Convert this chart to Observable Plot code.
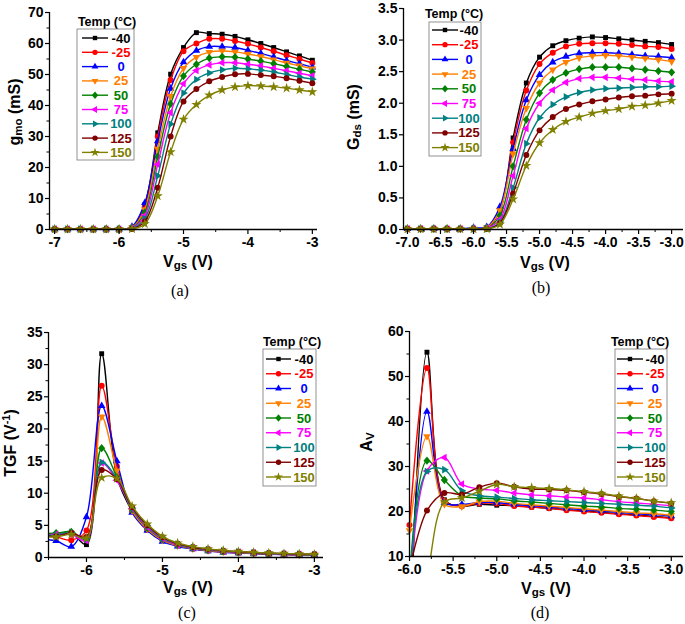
<!DOCTYPE html>
<html>
<head>
<meta charset="utf-8">
<script src="https://cdn.jsdelivr.net/npm/d3@7"></script>
<script src="https://cdn.jsdelivr.net/npm/@observablehq/plot@0.6"></script>
<style>
  body { margin: 0; background: #fff; }
  #root { position: relative; width: 685px; height: 624px; font-family: "Liberation Sans", Arial, sans-serif; overflow: hidden; }
  .pane { position: absolute; }
  .atitle { position: absolute; font-weight: bold; font-size: 16px; white-space: nowrap; transform: translate(-50%, -50%); }
  .atitle.rot { transform: translate(-50%, -50%) rotate(-90deg); }
  .atitle sub { font-size: 0.72em; vertical-align: -0.25em; }
  .atitle sup { font-size: 0.68em; vertical-align: 0.55em; }
  .cap { position: absolute; font-family: "Liberation Serif", serif; font-size: 16px; transform: translate(-50%, -50%); }
  #legends { position: absolute; left: 0; top: 0; pointer-events: none; }
</style>
</head>
<body>
<div id="root"></div>
<script>
// ----------------- data -----------------
const temps  = ["-40", "-25", "0", "25", "50", "75", "100", "125", "150"];
const colors = ["#000000", "#ff0000", "#0000ff", "#ff8000", "#008000", "#ff00ff", "#008080", "#800000", "#808000"];

// Vgs grid (V)
const vgsAB = [-7, -6.8, -6.6, -6.4, -6.2, -6, -5.8, -5.6, -5.4, -5.2, -5, -4.8, -4.6, -4.4, -4.2, -4, -3.8, -3.6, -3.4, -3.2, -3];
const vgsC  = [-6.6, -6.4, -6.2, -6, -5.8, -5.6, -5.4, -5.2, -5, -4.8, -4.6, -4.4, -4.2, -4, -3.8, -3.6, -3.4, -3.2, -3];
const vgsD  = [-6, -5.8, -5.6, -5.4, -5.2, -5, -4.8, -4.6, -4.4, -4.2, -4, -3.8, -3.6, -3.4, -3.2, -3];

// (a) gmo (mS), one row per temperature
const gmo = [
  [0.1, 0.1, 0.1, 0.1, 0.1, 0.1, 0.6, 8.0, 31.2, 50.1, 58.7, 63.5, 63.2, 63.0, 62.3, 61.2, 60.0, 58.7, 57.3, 56.0, 54.6],
  [0.1, 0.1, 0.1, 0.1, 0.1, 0.1, 0.5, 7.5, 30.0, 48.2, 57.5, 60.0, 61.5, 61.5, 60.8, 59.9, 58.7, 57.5, 56.2, 55.0, 53.7],
  [0.1, 0.1, 0.1, 0.1, 0.1, 0.1, 0.9, 8.6, 28.5, 45.5, 54.0, 57.7, 59.0, 59.0, 58.7, 57.8, 56.8, 55.7, 54.5, 53.5, 52.3],
  [0.1, 0.1, 0.1, 0.1, 0.1, 0.1, 0.6, 6.5, 26.0, 43.0, 52.0, 55.6, 57.2, 57.6, 57.3, 56.6, 55.8, 54.8, 53.7, 52.8, 51.9],
  [0.1, 0.1, 0.1, 0.1, 0.1, 0.1, 0.5, 5.5, 23.5, 40.5, 49.5, 53.3, 55.3, 55.7, 55.6, 55.0, 54.3, 53.5, 52.6, 51.7, 50.8],
  [0.1, 0.1, 0.1, 0.1, 0.1, 0.1, 0.4, 4.5, 21.0, 37.7, 47.0, 51.3, 53.1, 53.8, 53.8, 53.3, 52.8, 52.0, 51.2, 50.4, 49.6],
  [0.1, 0.1, 0.1, 0.1, 0.1, 0.1, 0.3, 3.5, 17.3, 34.0, 44.0, 48.4, 50.5, 51.5, 52.0, 51.8, 51.4, 50.8, 50.0, 49.2, 48.5],
  [0.1, 0.1, 0.1, 0.1, 0.1, 0.1, 0.2, 2.6, 13.5, 30.0, 41.3, 45.3, 47.8, 49.2, 50.1, 50.2, 49.8, 49.4, 48.8, 48.0, 47.2],
  [0.1, 0.1, 0.1, 0.1, 0.1, 0.1, 0.2, 1.8, 10.8, 25.0, 35.5, 40.3, 43.3, 45.0, 46.0, 46.4, 46.3, 46.0, 45.6, 45.0, 44.4]
];

// (b) Gds (mS)
const gds = [
  [0.01, 0.01, 0.01, 0.01, 0.01, 0.01, 0.03, 0.30, 1.45, 2.32, 2.73, 2.91, 2.99, 3.03, 3.05, 3.04, 3.02, 3.00, 2.98, 2.96, 2.93],
  [0.01, 0.01, 0.01, 0.01, 0.01, 0.01, 0.02, 0.30, 1.38, 2.20, 2.62, 2.80, 2.90, 2.94, 2.95, 2.95, 2.94, 2.92, 2.90, 2.89, 2.86],
  [0.01, 0.01, 0.01, 0.01, 0.01, 0.03, 0.04, 0.36, 1.28, 2.05, 2.45, 2.65, 2.74, 2.79, 2.80, 2.80, 2.79, 2.77, 2.75, 2.74, 2.72],
  [0.01, 0.01, 0.01, 0.01, 0.01, 0.01, 0.03, 0.30, 1.20, 1.92, 2.32, 2.53, 2.65, 2.72, 2.75, 2.76, 2.75, 2.73, 2.71, 2.69, 2.66],
  [0.01, 0.01, 0.01, 0.01, 0.01, 0.01, 0.02, 0.22, 1.00, 1.74, 2.16, 2.37, 2.48, 2.54, 2.57, 2.57, 2.57, 2.55, 2.53, 2.51, 2.49],
  [0.01, 0.01, 0.01, 0.01, 0.01, 0.01, 0.02, 0.16, 0.85, 1.60, 2.00, 2.21, 2.33, 2.39, 2.41, 2.41, 2.40, 2.38, 2.37, 2.35, 2.34],
  [0.01, 0.01, 0.01, 0.01, 0.01, 0.01, 0.01, 0.12, 0.66, 1.36, 1.77, 1.98, 2.10, 2.17, 2.21, 2.23, 2.24, 2.25, 2.26, 2.26, 2.27],
  [0.01, 0.01, 0.01, 0.01, 0.01, 0.01, 0.01, 0.10, 0.57, 1.18, 1.57, 1.78, 1.91, 1.98, 2.03, 2.06, 2.09, 2.11, 2.12, 2.14, 2.15],
  [0.01, 0.01, 0.01, 0.01, 0.01, 0.01, 0.01, 0.08, 0.48, 1.01, 1.37, 1.58, 1.71, 1.78, 1.84, 1.88, 1.91, 1.95, 1.97, 2.00, 2.04]
];

// (c) TGF (1/V)
const tgf = [
  [3.5, 3.6, 3.8, 2.0, 31.7, 12.6, 7.3, 4.4, 2.8, 1.90, 1.40, 1.10, 0.90, 0.75, 0.65, 0.55, 0.50, 0.45, 0.40],
  [3.4, 3.2, 2.7, 4.2, 26.7, 14.2, 7.3, 4.3, 2.7, 1.85, 1.35, 1.05, 0.85, 0.72, 0.62, 0.53, 0.47, 0.42, 0.38],
  [2.8, 2.6, 1.7, 6.3, 23.6, 15.0, 7.0, 4.2, 2.5, 1.75, 1.30, 1.00, 0.82, 0.70, 0.60, 0.52, 0.46, 0.41, 0.37],
  [3.5, 3.5, 3.8, 3.2, 21.9, 13.5, 7.3, 4.4, 2.7, 1.85, 1.40, 1.10, 0.90, 0.76, 0.65, 0.56, 0.50, 0.45, 0.41],
  [3.7, 3.8, 4.0, 2.8, 17.0, 12.5, 7.5, 4.6, 2.85, 1.95, 1.45, 1.15, 0.95, 0.80, 0.69, 0.60, 0.53, 0.48, 0.43],
  [3.5, 3.6, 3.6, 2.6, 14.7, 12.0, 7.6, 4.7, 2.95, 2.00, 1.50, 1.20, 0.98, 0.83, 0.72, 0.63, 0.56, 0.50, 0.45],
  [3.5, 3.5, 3.9, 2.9, 14.8, 12.3, 7.7, 4.9, 3.05, 2.10, 1.55, 1.25, 1.02, 0.87, 0.75, 0.66, 0.58, 0.52, 0.47],
  [3.4, 3.3, 3.8, 3.2, 13.6, 12.2, 7.8, 5.0, 3.15, 2.15, 1.60, 1.30, 1.06, 0.90, 0.78, 0.68, 0.60, 0.54, 0.49],
  [3.3, 3.2, 3.6, 3.0, 12.4, 12.3, 8.0, 5.2, 3.30, 2.25, 1.70, 1.35, 1.10, 0.93, 0.80, 0.70, 0.62, 0.56, 0.50]
];

// (d) Av
const av = [
  [-12, 55.4, 22.6, 21.2, 21.6, 21.4, 21.3, 21.0, 20.7, 20.4, 20.1, 19.8, 19.5, 19.2, 18.9, 18.6],
  [17, 51.9, 22.4, 21.3, 21.8, 21.8, 21.2, 21.0, 20.7, 20.3, 20.0, 19.7, 19.4, 19.1, 18.8, 18.5],
  [1, 42.2, 22.0, 21.6, 22.0, 22.0, 21.6, 21.3, 21.0, 20.7, 20.4, 20.1, 19.8, 19.5, 19.3, 19.0],
  [15.8, 36.7, 21.6, 21.1, 22.2, 22.3, 21.8, 21.5, 21.2, 20.9, 20.6, 20.3, 20.0, 19.7, 19.5, 19.2],
  [5, 31.3, 27.0, 23.5, 23.0, 22.8, 22.4, 22.1, 21.8, 21.5, 21.2, 21.0, 20.7, 20.5, 20.3, 20.0],
  [2, 29.0, 32.0, 26.1, 25.0, 24.7, 24.1, 23.7, 23.5, 23.2, 23.0, 22.6, 22.2, 21.9, 21.6, 21.3],
  [2, 28.9, 29.3, 24.6, 23.5, 23.2, 22.9, 22.6, 22.4, 22.2, 22.0, 21.8, 21.6, 21.4, 21.2, 20.8],
  [7, 20.2, 24.1, 23.8, 25.4, 26.3, 25.5, 25.0, 24.9, 24.7, 24.3, 23.9, 23.3, 22.9, 22.3, 21.8],
  [-15, 5, 22.1, 23.0, 24.5, 26.0, 25.5, 25.3, 25.1, 24.8, 24.4, 24.0, 23.4, 22.9, 22.3, 21.9]
];

// tick values
const ticksXa = [-7, -6, -5, -4, -3];
const ticksXb = [-7, -6.5, -6, -5.5, -5, -4.5, -4, -3.5, -3];
const ticksXc = [-6, -5, -4, -3];
const ticksXd = [-6, -5.5, -5, -4.5, -4, -3.5, -3];
const ticksYa = [0, 10, 20, 30, 40, 50, 60, 70];
const ticksYb = [0, 0.5, 1, 1.5, 2, 2.5, 3, 3.5];
const ticksYc = [0, 5, 10, 15, 20, 25, 30, 35];
const ticksYd = [10, 20, 30, 40, 50, 60];

// --------------- symbols -----------------
function tri(angle){
  return { draw(ctx, size){
    const R = Math.sqrt(size / 1.3) * 0.95;
    for (let k = 0; k < 3; k++){
      const a = angle + k * 2 * Math.PI / 3;
      const x = R * Math.cos(a), y = R * Math.sin(a);
      k ? ctx.lineTo(x, y) : ctx.moveTo(x, y);
    }
    ctx.closePath();
  }};
}
const diamond = { draw(ctx, size){
  const h = Math.sqrt(size) * 0.78;
  ctx.moveTo(0, -h); ctx.lineTo(h * 0.85, 0); ctx.lineTo(0, h); ctx.lineTo(-h * 0.85, 0); ctx.closePath();
}};
const symbols = [d3.symbolSquare, d3.symbolCircle, tri(-Math.PI/2), tri(Math.PI/2), diamond,
                 tri(Math.PI), tri(0), d3.symbolCircle, d3.symbolStar];
const symSize = [24, 28, 28, 28, 28, 28, 28, 28, 32];

// --------------- helpers -----------------
const root = document.getElementById("root");
const fmtInt = d => String(d);
const fmt1 = d => d.toFixed(1);

function minors(ticks){
  const out = [];
  for (let i = 0; i < ticks.length - 1; i++) out.push((ticks[i] + ticks[i+1]) / 2);
  return out;
}

function panel(cfg){
  const marks = [];
  const [x0, x1] = cfg.xDomain, [y0, y1] = cfg.yDomain;
  cfg.series.forEach((ys, i) => {
    const rows = cfg.xs.map((x, j) => ({x, y: ys[j]}));
    marks.push(Plot.line(rows, {x: "x", y: "y", stroke: colors[i], strokeWidth: 1.4, curve: "catmull-rom", clip: true}));
    const vis = rows.filter(d => d.x >= x0 && d.x <= x1 && d.y >= y0 && d.y <= y1);
    marks.push(Plot.dot(vis, {x: "x", y: "y", fill: colors[i], stroke: "none",
      symbol: symbols[i], r: Math.sqrt(symSize[i] / Math.PI)}));
  });
  marks.push(
    Plot.axisX(cfg.xTicks, {tickSize: 5, tickPadding: 3, tickFormat: cfg.xFmt, fontSize: 14, fontWeight: "bold", label: null, strokeWidth: 1.2}),
    Plot.axisX(cfg.xMinor, {tickSize: 3, tickFormat: () => "", label: null, strokeWidth: 1}),
    Plot.axisY(cfg.yTicks, {tickSize: 4, tickPadding: 2, tickFormat: cfg.yFmt, fontSize: 14, fontWeight: "bold", label: null, strokeWidth: 1.2}),
    Plot.axisY(cfg.yMinor, {tickSize: 2.5, tickFormat: () => "", label: null, strokeWidth: 1}),
    Plot.ruleX([x0], {strokeWidth: 1.3}),
    Plot.ruleY([y0], {strokeWidth: 1.3})
  );
  const fig = Plot.plot({
    width: cfg.w, height: cfg.h,
    marginLeft: cfg.ml, marginRight: cfg.mr, marginTop: cfg.mt, marginBottom: cfg.mb,
    x: {domain: cfg.xDomain, label: null},
    y: {domain: cfg.yDomain, label: null},
    style: {fontFamily: "Liberation Sans, Arial, sans-serif", color: "#000", background: "transparent", overflow: "visible"},
    marks
  });
  const wrap = document.createElement("div");
  wrap.className = "pane";
  wrap.style.left = cfg.left + "px";
  wrap.style.top = cfg.top + "px";
  wrap.appendChild(fig);
  root.appendChild(wrap);
}

function label(html, x, y, cls){
  const d = document.createElement("div");
  d.className = cls;
  d.style.left = x + "px";
  d.style.top = y + "px";
  d.innerHTML = html;
  root.appendChild(d);
}

// --------------- panels -----------------
panel({left: 0, top: 0, w: 330, h: 262, ml: 49, mr: 13, mt: 12, mb: 33,
  xs: vgsAB, series: gmo, xDomain: [-7.08, -2.92], yDomain: [0, 70],
  xTicks: ticksXa, xMinor: minors(ticksXa), xFmt: fmtInt,
  yTicks: ticksYa, yMinor: minors(ticksYa), yFmt: fmtInt});

panel({left: 340, top: 0, w: 345, h: 262, ml: 63, mr: 2, mt: 8, mb: 33,
  xs: vgsAB, series: gds, xDomain: [-7.06, -2.82], yDomain: [0, 3.5],
  xTicks: ticksXb, xMinor: minors(ticksXb), xFmt: fmt1,
  yTicks: ticksYb, yMinor: [], yFmt: fmt1});

panel({left: 0, top: 310, w: 330, h: 280, ml: 48, mr: 7, mt: 22, mb: 33,
  xs: vgsC, series: tgf, xDomain: [-6.5, -2.88], yDomain: [0, 35],
  xTicks: ticksXc, xMinor: [-6.5].concat(minors(ticksXc)), xFmt: fmtInt,
  yTicks: ticksYc, yMinor: minors(ticksYc), yFmt: fmtInt});

panel({left: 340, top: 310, w: 345, h: 280, ml: 69, mr: 2, mt: 21, mb: 34,
  xs: vgsD, series: av, xDomain: [-6.0, -2.86], yDomain: [10, 60],
  xTicks: ticksXd, xMinor: minors(ticksXd), xFmt: fmt1,
  yTicks: ticksYd, yMinor: minors(ticksYd), yFmt: fmtInt});

// axis titles and captions
label("V<sub>gs</sub> (V)", 188, 262, "atitle");
label("g<sub>mo</sub> (mS)", 15, 112, "atitle rot");
label("V<sub>gs</sub> (V)", 545, 263, "atitle");
label("G<sub>ds</sub> (mS)", 354, 117, "atitle rot");
label("V<sub>gs</sub> (V)", 188, 588, "atitle");
label("TGF (V<sup>-1</sup>)", 10, 443, "atitle rot");
label("V<sub>gs</sub> (V)", 546, 589, "atitle");
label("A<sub>V</sub>", 367, 442, "atitle rot");
label("(a)", 180, 291, "cap");
label("(b)", 541, 288, "cap");
label("(c)", 187, 613, "cap");
label("(d)", 540, 613, "cap");

// --------------- legends -----------------
const legends = [
  {titleX: 107, titleY: 22, box: [77, 29, 134, 160], rowY: 38, step: 14.3, line: [82, 108], textX: 121},
  {titleX: 454, titleY: 14, box: [429, 22, 481, 156], rowY: 30, step: 14.7, line: [432, 458], textX: 469},
  {titleX: 292, titleY: 342, box: [263, 349, 316, 486], rowY: 359, step: 14.75, line: [266, 291], textX: 304},
  {titleX: 640, titleY: 342, box: [615, 349, 667, 486], rowY: 359, step: 14.75, line: [617, 643], textX: 655}
];
const lsvg = d3.create("svg").attr("id", "legends").attr("width", 685).attr("height", 624)
  .style("font-family", "Liberation Sans, Arial, sans-serif").style("font-weight", "bold");
legends.forEach(L => {
  lsvg.append("text").attr("x", L.titleX).attr("y", L.titleY).attr("text-anchor", "middle")
    .attr("dominant-baseline", "central").attr("font-size", 12.5).text("Temp (°C)");
  lsvg.append("rect").attr("x", L.box[0]).attr("y", L.box[1])
    .attr("width", L.box[2] - L.box[0]).attr("height", L.box[3] - L.box[1])
    .attr("fill", "white").attr("stroke", "#777").attr("stroke-width", 0.8);
  temps.forEach((t, i) => {
    const y = L.rowY + i * L.step;
    lsvg.append("line").attr("x1", L.line[0]).attr("x2", L.line[1]).attr("y1", y).attr("y2", y)
      .attr("stroke", colors[i]).attr("stroke-width", 1.4);
    lsvg.append("path").attr("transform", `translate(${(L.line[0] + L.line[1]) / 2},${y})`)
      .attr("d", d3.symbol(symbols[i], symSize[i] * 0.8)()).attr("fill", colors[i]);
    lsvg.append("text").attr("x", L.textX).attr("y", y).attr("text-anchor", "middle")
      .attr("dominant-baseline", "central").attr("font-size", 13).attr("fill", colors[i]).text(t);
  });
});
root.appendChild(lsvg.node());
</script>
</body>
</html>
